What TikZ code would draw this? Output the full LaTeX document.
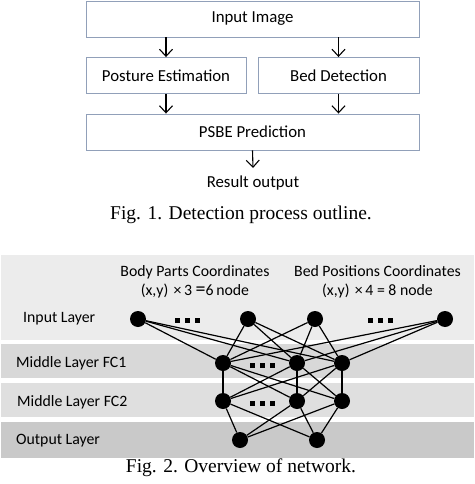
\documentclass[tikz,border=0pt]{standalone}
\usepackage{fontspec}
\setmainfont{Carlito}
\newfontfamily\capfont{Liberation Serif}
\usetikzlibrary{arrows.meta,positioning}
\definecolor{boxline}{RGB}{145,160,185}
\definecolor{bandA}{RGB}{236,236,236}
\definecolor{bandB}{RGB}{216,216,216}
\definecolor{bandC}{RGB}{223,223,223}
\definecolor{bandD}{RGB}{201,201,201}
\newcommand{\sqdots}{\rule{5pt}{5pt}\hspace{5pt}\rule{5pt}{5pt}\hspace{5pt}\rule{5pt}{5pt}}

\begin{document}
\begin{tikzpicture}[x=1pt, y=-1pt,
      >={Straight Barb[length=7pt,width=13pt]},
      font=\fontsize{16.8}{19}\selectfont,
      stepbox/.style={draw=boxline, line width=0.9pt, fill=white,
                      minimum height=36pt, inner sep=0pt},
      flow/.style={->, line width=1.1pt},
      band/.style={fill=#1, minimum width=473pt, inner sep=0pt},
      netfont/.style={font=\fontsize{15.8}{19}\selectfont},
      layername/.style={netfont, anchor=west, inner sep=0pt},
      neuron/.style={circle, fill=black, minimum size=16pt, inner sep=0pt},
      link/.style={line width=1.2pt},
      gap/.style={inner sep=0pt},
      caption/.style={font=\capfont\fontsize{19.5}{22}\selectfont},
    ]
    \useasboundingbox (0,0) rectangle (474,484);

    % Fig. 1: detection process
    \node[stepbox, minimum width=333pt] (image) at (252.5,19) {Input Image};
    \node[stepbox, minimum width=160pt] (pose) at (166,75.5) {Posture Estimation};
    \node[stepbox, minimum width=161pt] (bed) at (338.5,75.5) {Bed Detection};
    \node[stepbox, minimum width=333pt] (psbe) at (252.5,132) {PSBE Prediction};
    \node[inner sep=0pt] (result) at (253,183) {Result output};
    \coordinate (resulttop) at (253,168);
    \node[caption] (fig1) at (241,215) {Fig. 1. Detection process outline.};

    \draw[flow] (image.south -| pose.north) -- (pose.north);
    \draw[flow] (image.south -| bed.north) -- (bed.north);
    \draw[flow] (pose.south) -- (pose.south |- psbe.north);
    \draw[flow] (bed.south) -- (bed.south |- psbe.north);
    \draw[flow] (psbe.south) -- (resulttop);

    % Fig. 2: layer bands
    \node[band=bandA, minimum height=85pt] (inband) at (237.5,297.5) {};
    \node[band=bandB, minimum height=34pt] (fc1band) at (237.5,361) {};
    \node[band=bandC, minimum height=34pt] (fc2band) at (237.5,400) {};
    \node[band=bandD, minimum height=36pt] (outband) at (237.5,440) {};

    \node[layername] (inname) at (23,319) {Input Layer};
    \node[layername] (fc1name) at (16,363) {Middle Layer FC1};
    \node[layername] (fc2name) at (17,402) {Middle Layer FC2};
    \node[layername] (outname) at (16,441) {Output Layer};

    \node[netfont, align=center] (body) at (195,282)
      {Body Parts Coordinates\\(x,y)\,\,×\,3 {\fontsize{20}{19}\selectfont =}6\,node};
    \node[netfont, align=center] (bedpos) at (377.5,282)
      {Bed Positions Coordinates\\(x,y)\,\,×\,4 = 8 node};

    % neurons
    \node[neuron] (in1) at (138,319) {};
    \node[neuron] (in2) at (248,319) {};
    \node[neuron] (in3) at (315,319) {};
    \node[neuron] (in4) at (445,319) {};
    \node[gap] (dotsA) at (187,320) {\sqdots};
    \node[gap] (dotsB) at (380,320) {\sqdots};

    \node[neuron] (h1a) at (223,363) {};
    \node[neuron] (h1b) at (297,363) {};
    \node[neuron] (h1c) at (342,363) {};
    \node[gap] (dotsC) at (262,365) {\sqdots};

    \node[neuron] (h2a) at (223,401) {};
    \node[neuron] (h2b) at (297,401) {};
    \node[neuron] (h2c) at (342,401) {};
    \node[gap] (dotsD) at (262,403) {\sqdots};

    \node[neuron] (out1) at (240,440) {};
    \node[neuron] (out2) at (317,440) {};

    % full connections
    \foreach \i in {1,...,4}
      \foreach \j in {a,b,c}
        \draw[link] (in\i) -- (h1\j);
    \foreach \i in {a,b,c}
      \foreach \j in {a,b,c}
        \draw[link] (h1\i) -- (h2\j);
    \foreach \i in {a,b,c}
      \foreach \j in {1,2}
        \draw[link] (h2\i) -- (out\j);

    \node[caption] (fig2) at (241,468) {Fig. 2. Overview of network.};
  \end{tikzpicture}
\end{document}
